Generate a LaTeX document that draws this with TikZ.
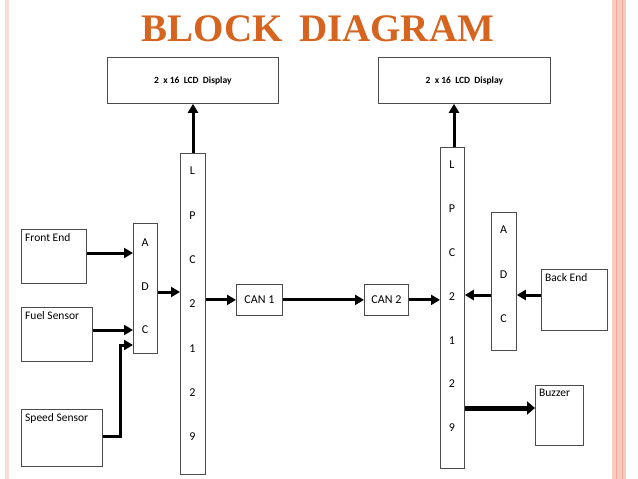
\documentclass[tikz,border=0pt]{standalone}
\usepackage{fontspec}
\setmainfont{Carlito}
\newfontfamily\titlefont{Liberation Serif}
\usetikzlibrary{arrows.meta}

\begin{document}
\begin{tikzpicture}[x=1pt,y=-1pt, font=\fontsize{12}{14}\selectfont]

\tikzset{
    blk/.style = {draw=black!70, line width=0.8pt, inner sep=0pt, anchor=north west},
    lbl/.style = {font=\fontsize{11.5}{13}\selectfont, anchor=north west, inner sep=4pt},
    sig/.style = {line width=3pt, -{Triangle[length=9pt,width=10pt]}},
    fat/.style = {line width=5pt, -{Triangle[length=8pt,width=13pt]}}
}
\definecolor{slide}{RGB}{214,100,30}
\definecolor{rim}{RGB}{240,170,150}

\useasboundingbox (0,0) rectangle (638,479);
% slide frame
\fill[rim!40] (5,0) rectangle (9,479);
\fill[rim!60] (612,0) rectangle (626,479);
\draw[rim, line width=1pt] (616,0) -- (616,479) (622,0) -- (622,479);

\node (title) at (318,29) {\titlefont\bfseries\fontsize{39}{44}\selectfont\color{slide}BLOCK\, DIAGRAM};

% displays
\node (lcd1) [blk, minimum width=171pt, minimum height=46pt] at (107,57) {};
\node (lcd2) [blk, minimum width=172pt, minimum height=46pt] at (378,57) {};
\node (t1) at ([yshift=-1pt]lcd1.center) [font=\fontsize{9.5}{11}\selectfont\bfseries] {2\ \ x 16\ \ LCD\ \ Display};
\node (t2) at ([yshift=-1pt]lcd2.center) [font=\fontsize{9.5}{11}\selectfont\bfseries] {2\ \ x 16\ \ LCD\ \ Display};

% controllers
\node (lpc1) [blk, minimum width=25pt, minimum height=321pt] at (180,153) {};
\node (lpc2) [blk, minimum width=24pt, minimum height=321pt] at (440,147) {};
\foreach \c [count=\i] in {L,P,C,2,1,2,9} {
    \node (la\i) at (192.5,{171+44.3*(\i-1)}) {\c};
    \node (lb\i) at (452,{165+43.8*(\i-1)}) {\c};
}

% converters
\node (adc1) [blk, minimum width=24pt, minimum height=130pt] at (133,223) {};
\node (adc2) [blk, minimum width=25pt, minimum height=138pt] at (491,212) {};
\foreach \c [count=\i] in {A,D,C} {
    \node (ca\i) at (145,{243+43.5*(\i-1)}) {\c};
    \node (cb\i) at (503.5,{230+44.5*(\i-1)}) {\c};
}

% sensors and outputs
\node (front) [blk, minimum width=65pt, minimum height=54pt, label={[lbl]north west:Front End}] at (21,229) {};
\node (fuel) [blk, minimum width=71pt, minimum height=54pt, label={[lbl]north west:Fuel Sensor}] at (21,307) {};
\node (speed) [blk, minimum width=81pt, minimum height=57pt, label={[lbl]north west:Speed Sensor}] at (21,409) {};
\node (back) [blk, minimum width=66pt, minimum height=61pt, label={[lbl]north west:Back End}] at (541,269) {};
\node (buzz) [blk, minimum width=48pt, minimum height=60pt, label={[lbl]north west:Buzzer}] at (535,385) {};
\node (can1) [blk, minimum width=46pt, minimum height=31pt] at (236,284) {};
\node (can2) [blk, minimum width=44pt, minimum height=31pt] at (364,284) {};
\node (n1) at (can1.center) {CAN 1};
\node (n2) at (can2.center) {CAN 2};

% links
\coordinate (bend) at (120,436);
\draw[sig] (front.east |- 0,253) -- (adc1.west |- 0,253);
\draw[sig] (fuel.east |- 0,330) -- (adc1.west |- 0,330);
\draw[sig] (speed.east |- bend) -- (bend) -- (120,345) -- (adc1.west |- 0,345);
\draw[sig] (adc1.east |- 0,292) -- (lpc1.west |- 0,292);
\draw[sig] (lpc1.east |- can1) -- (can1.west);
\draw[sig] (can1.east) -- (can2.west);
\draw[sig] (can2.east) -- (lpc2.west |- can2);
\draw[sig] (back.west |- 0,295) -- (adc2.east |- 0,295);
\draw[sig] (adc2.west |- 0,295) -- (lpc2.east |- 0,295);
\draw[fat] (lpc2.east |- 0,408) -- (buzz.west |- 0,408);
\draw[sig] (lpc1.north -| 193,0) -- (lcd1.south -| 193,0);
\draw[sig] (lpc2.north -| 454,0) -- (lcd2.south -| 454,0);
\end{tikzpicture}
\end{document}
